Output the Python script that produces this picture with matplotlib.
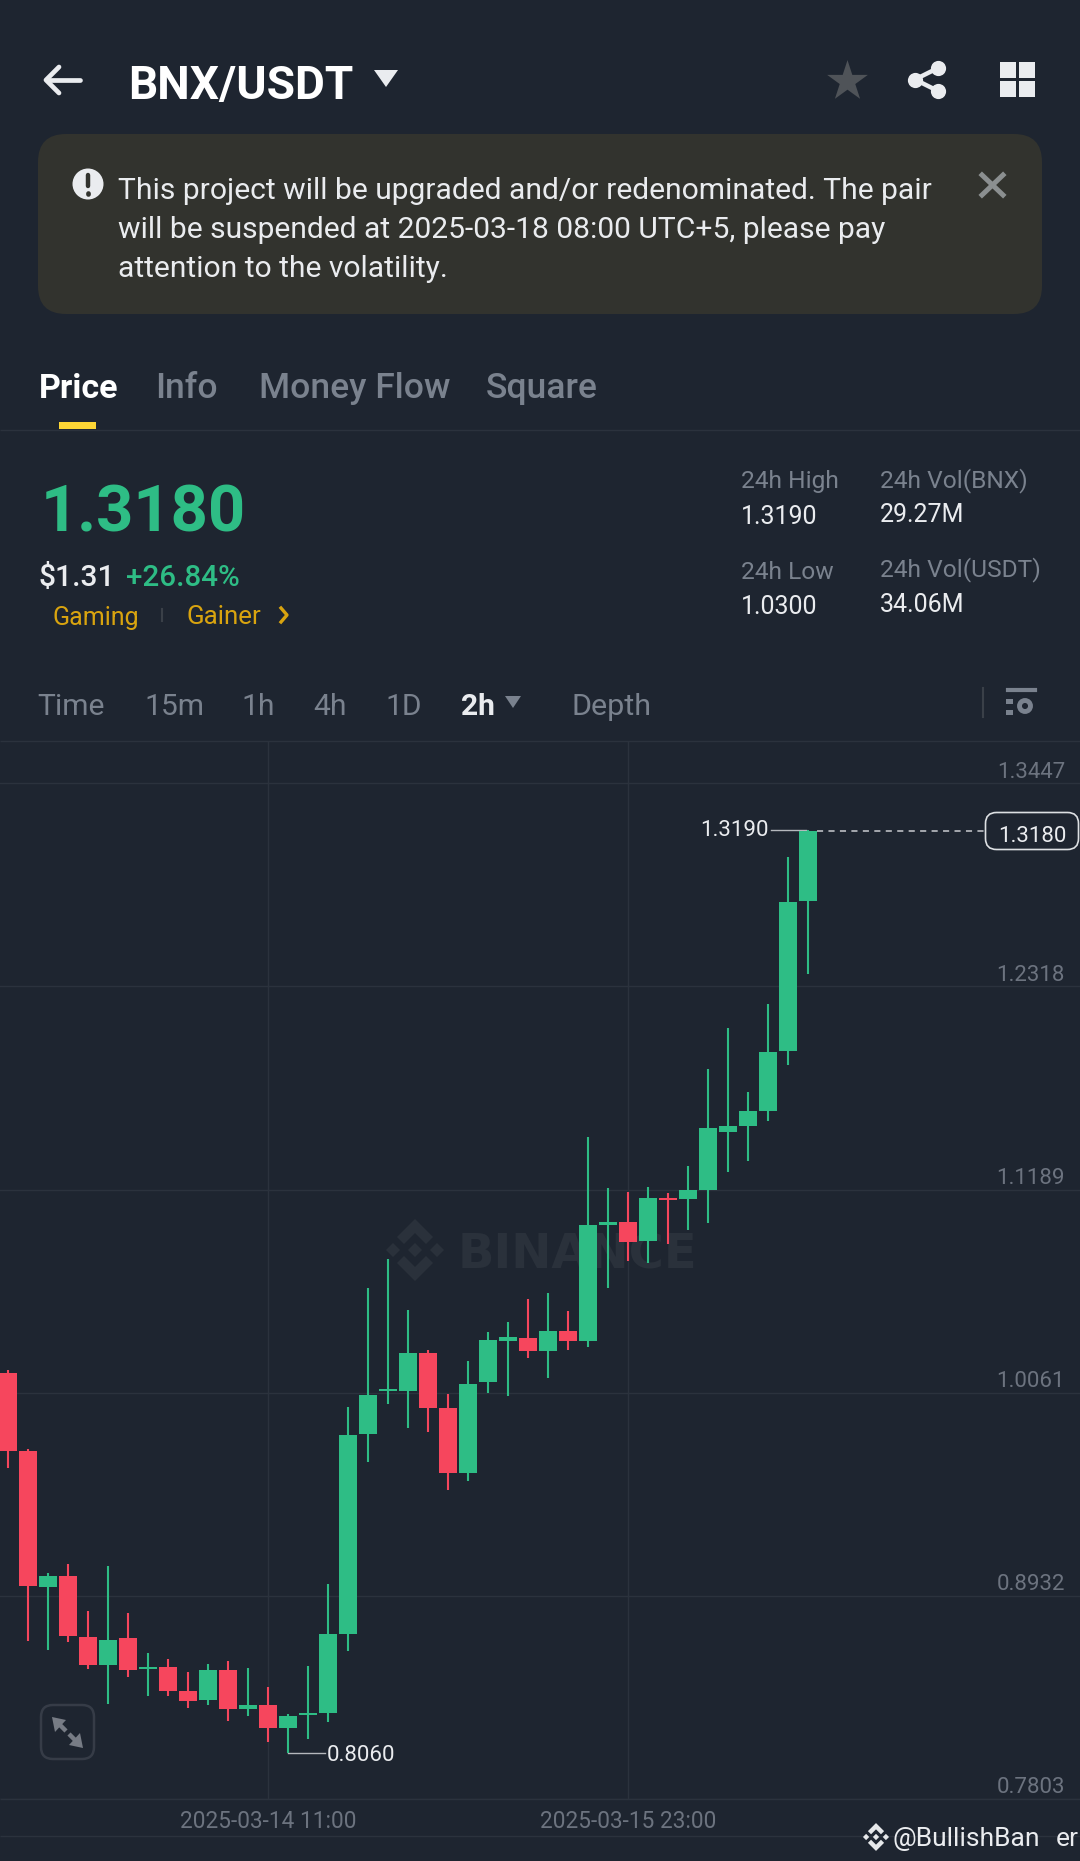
import matplotlib
matplotlib.use("Agg")
import matplotlib.pyplot as plt
from matplotlib.patches import FancyBboxPatch, Polygon, Circle, Rectangle

plt.rcParams['font.family'] = ['Roboto', 'DejaVu Sans']

# candles, left to right: high, top of body, bottom of body, low
highs = [1.0189, 0.9750, 0.9057, 0.9107, 0.8845, 0.9100, 0.8838, 0.8613, 0.8579, 0.8507,
         0.8553, 0.8570, 0.8531, 0.8427, 0.8273, 0.8542, 0.8999, 0.9984, 1.0644, 1.0806,
         1.0521, 1.0300, 1.0051, 1.0239, 1.0400, 1.0456, 1.0582, 1.0615, 1.0513, 1.1482,
         1.1200, 1.1174, 1.1202, 1.1169, 1.1319, 1.1858, 1.2087, 1.1734, 1.2221, 1.3036, 1.3190]
tops = [1.0168, 0.9735, 0.9044, 0.9044, 0.8704, 0.8689, 0.8695, 0.8535, 0.8535, 0.8403,
        0.8518, 0.8518, 0.8325, 0.8327, 0.8262, 0.8280, 0.8719, 0.9823, 1.0049, 1.0079,
        1.0280, 1.0280, 0.9977, 1.0111, 1.0352, 1.0369, 1.0367, 1.0406, 1.0406, 1.0991,
        1.1011, 1.1010, 1.1141, 1.1145, 1.1187, 1.1530, 1.1543, 1.1624, 1.1956, 1.2790, 1.3180]
bottoms = [0.9735, 0.8986, 0.8983, 0.8706, 0.8550, 0.8550, 0.8520, 0.8524, 0.8403, 0.8347,
           0.8353, 0.8301, 0.8304, 0.8198, 0.8198, 0.8269, 0.8280, 0.8719, 0.9830, 1.0068,
           1.0070, 0.9977, 0.9613, 0.9613, 1.0119, 1.0348, 1.0293, 1.0291, 1.0347, 1.0350,
           1.0991, 1.0899, 1.0902, 1.1130, 1.1136, 1.1189, 1.1508, 1.1545, 1.1626, 1.1962, 1.2792]
lows = [0.9642, 0.8680, 0.8631, 0.8676, 0.8527, 0.8332, 0.8481, 0.8373, 0.8373, 0.8306,
        0.8327, 0.8239, 0.8265, 0.8117, 0.8060, 0.8137, 0.8232, 0.8624, 0.9674, 0.9999,
        0.9862, 0.9841, 0.9518, 0.9572, 1.0061, 1.0043, 1.0252, 1.0141, 1.0297, 1.0313,
        1.0645, 1.0791, 1.0782, 1.0887, 1.0963, 1.1004, 1.1289, 1.1348, 1.1571, 1.1884, 1.2386]
is_up = [0, 0, 1, 0, 0, 1, 0, 1, 0, 0, 1, 0, 1, 0, 1, 1, 1, 1, 1, 1, 1,
         0, 0, 1, 1, 1, 0, 1, 0, 1, 1, 0, 1, 0, 1, 1, 1, 1, 1, 1, 1]

price_ticks = [1.3447, 1.2318, 1.1189, 1.0061, 0.8932, 0.7803]
price_labels = ['1.3447', '1.2318', '1.1189', '1.0061', '0.8932', '0.7803']
date_ticks = [13, 31]
date_labels = ['2025-03-14 11:00', '2025-03-15 23:00']
last_price = 1.3180
max_index, max_price = 40, 1.3190
min_index, min_price = 14, 0.8060

BG = '#1E2530'
GREEN = '#2EBD85'
RED = '#F6465D'
GRID = '#2B323D'
MUTED = '#7A828E'
AXIS_TXT = '#6C737F'
WHITE = '#EAECEF'
YELLOW = '#D9A40F'
BANNER = '#32332E'

W, H = 1080, 1861
fig = plt.figure(figsize=(W / 100, H / 100), dpi=100, facecolor=BG)

# whole page in pixel coordinates, for the app chrome
ov = fig.add_axes([0, 0, 1, 1], zorder=1)
ov.set_xlim(0, W)
ov.set_ylim(H, 0)
ov.axis('off')


def txt(x, y, s, px, color=WHITE, weight='normal', ha='left', **kw):
    return ov.text(x, y, s, fontsize=px * 0.72, color=color, fontweight=weight,
                   ha=ha, va='center_baseline', **kw)


def hline(y, x0=0, x1=W, color=GRID, lw=1.0):
    ov.plot([x0, x1], [y, y], color=color, lw=lw, solid_capstyle='butt')


def logo(where, cx, cy, k, color, zorder=2):
    # exchange mark: two chevrons and three small diamonds
    d = 7 * k
    for dx in (-22 * k, 0, 22 * k):
        where.add_patch(Polygon([(cx + dx - d, cy), (cx + dx, cy - d), (cx + dx + d, cy), (cx + dx, cy + d)],
                                fc=color, ec='none', zorder=zorder))
    for sgn in (-1, 1):
        chev = [(0, 31), (18, 13), (11, 6), (0, 17), (-11, 6), (-18, 13)]
        where.add_patch(Polygon([(cx + a * k, cy + sgn * b * k) for a, b in chev],
                                fc=color, ec='none', zorder=zorder))


# header
ov.plot([47, 80], [80, 80], color=WHITE, lw=3.4, solid_capstyle='round')
ov.plot([59, 46, 59], [67, 80, 93], color=WHITE, lw=3.4, solid_capstyle='round', solid_joinstyle='round')
txt(128, 81, 'BNX/USDT', 46, color='white', weight='bold')
ov.add_patch(Polygon([(374, 70), (398, 70), (386, 87)], closed=True, fc=WHITE, ec='none'))
ov.scatter([847], [81], marker='*', s=950, color='#4F5358', linewidths=0)
ov.plot([938, 915, 938], [68, 79.5, 91], color=WHITE, lw=3.2)
ov.scatter([938, 915, 938], [68, 79.5, 91], s=120, color=WHITE, linewidths=0)
for sq_x in (1000, 1019):
    for sq_y in (62, 81):
        ov.add_patch(Rectangle((sq_x, sq_y), 15.5, 15.5, fc=WHITE, ec='none'))

# notice banner
ov.add_patch(FancyBboxPatch((38, 134), 1004, 180, boxstyle='round,pad=0,rounding_size=28',
                            fc=BANNER, ec='none'))
ov.add_patch(Circle((88, 184), 15.5, fc=WHITE, ec='none'))
ov.plot([88, 88], [175, 186], color=BANNER, lw=3.2, solid_capstyle='round')
ov.plot([88, 88], [193, 193.5], color=BANNER, lw=3.4, solid_capstyle='round')
txt(118, 188, 'This project will be upgraded and/or redenominated. The pair', 30)
txt(118, 227, 'will be suspended at 2025-03-18 08:00 UTC+5, please pay', 30)
txt(118, 266, 'attention to the volatility.', 30)
ov.plot([982, 1003], [175, 195], color='#8B8F90', lw=3.6)
ov.plot([1003, 982], [175, 195], color='#8B8F90', lw=3.6)

# tabs
txt(39, 385, 'Price', 34, color='white', weight='bold')
txt(155, 385, 'Info', 35.5, color=MUTED, weight='medium')
txt(259, 385, 'Money Flow', 35.5, color=MUTED, weight='medium')
txt(486, 385, 'Square', 35.5, color=MUTED, weight='medium')
hline(430)
ov.add_patch(Rectangle((59, 422), 37, 7, fc='#FCD535', ec='none'))

# price block
txt(41, 507, '1.3180', 65, color=GREEN, weight='bold')
txt(39, 575, '$1.31', 30, color=WHITE, weight='medium')
txt(126, 575, '+26.84%', 29.5, color=GREEN, weight='medium')
txt(53, 615, 'Gaming', 25, color=YELLOW)
ov.plot([162, 162], [609, 621], color='#3A4048', lw=1.5)
txt(187, 615, 'Gainer', 26, color=YELLOW)
ov.plot([281, 287, 281], [608, 615, 622], color=YELLOW, lw=2.4)

txt(741, 479, '24h High', 24.5, color=MUTED)
txt(741, 514, '1.3190', 25)
txt(741, 570, '24h Low', 24.5, color=MUTED)
txt(741, 604, '1.0300', 25)
txt(880, 478, '24h Vol(BNX)', 24.5, color=MUTED)
txt(880, 512, '29.27M', 25)
txt(880, 567, '24h Vol(USDT)', 24.5, color=MUTED)
txt(880, 603, '34.06M', 25)

# interval row
txt(37, 704, 'Time', 30, color=MUTED)
txt(144, 704, '15m', 30, color=MUTED)
txt(241, 704, '1h', 30, color=MUTED)
txt(313, 704, '4h', 30, color=MUTED)
txt(385, 704, '1D', 30, color=MUTED)
txt(461, 704, '2h', 30, color=WHITE, weight='bold')
ov.add_patch(Polygon([(505, 696), (521, 696), (513, 708)], closed=True, fc=MUTED, ec='none'))
txt(572, 704, 'Depth', 30.5, color=MUTED)
ov.plot([983, 983], [688, 717], color='#3A4048', lw=1.5)
ov.plot([1008, 1035], [690, 690], color=MUTED, lw=3)
ov.add_patch(Rectangle((1006, 699), 7, 5, fc=MUTED, ec='none'))
ov.add_patch(Rectangle((1006, 710), 7, 5, fc=MUTED, ec='none'))
ov.add_patch(Circle((1025, 706), 5.5, fc='none', ec=MUTED, lw=3.5))

# watermark behind the candles
wm = '#2A313B'
logo(ov, 415, 1250, 1.0, wm)
ov.text(458, 1250, 'BINANCE', fontsize=48 * 0.72, color=wm, fontweight='bold',
        family='DejaVu Sans', ha='left', va='center_baseline')

# chart frame lines
hline(741)
hline(1799)
hline(1836)

# candles, drawn on a real price axis
ax = fig.add_axes([0, 1 - 1799 / H, 1, (1799 - 741) / H], zorder=2)
ax.patch.set_alpha(0)
ax.set_xlim(-0.4, 53.6)
ax.set_ylim(0.7803, 1.3682)
for side in ax.spines.values():
    side.set_visible(False)
ax.tick_params(left=False, bottom=False, labelleft=False, labelbottom=False)
ax.set_yticks(price_ticks)
ax.set_xticks(date_ticks)
ax.grid(True, color=GRID, lw=1.0)
ax.set_axisbelow(True)

for i in range(len(highs)):
    c = GREEN if is_up[i] else RED
    ax.vlines(i, lows[i], highs[i], color=c, lw=1.5, zorder=3)
    ax.bar(i, tops[i] - bottoms[i], bottom=bottoms[i], width=0.86, color=c, linewidth=0, zorder=4)

for val, lab in zip(price_ticks, price_labels):
    ax.annotate(lab, (1065, val), xycoords=('figure pixels', 'data'), xytext=(0, 8), textcoords='offset points',
                ha='right', va='center', color=AXIS_TXT, fontsize=16)
for idx, lab in zip(date_ticks, date_labels):
    ax.annotate(lab, (idx, 0.7803), xycoords='data', xytext=(0, -16), textcoords='offset points',
                ha='center', va='center', color=AXIS_TXT, fontsize=16.3, annotation_clip=False)

# last price marker
ax.plot([40.45, 48.8], [last_price, last_price], color='#C9CCD0', lw=1.1, dashes=(4, 3.5))
ov2 = fig.add_axes([0, 0, 1, 1], zorder=3)
ov2.set_xlim(0, W)
ov2.set_ylim(H, 0)
ov2.axis('off')
ov2.add_patch(FancyBboxPatch((985.5, 812.5), 93, 37, boxstyle='round,pad=0,rounding_size=11',
                             fc=BG, ec='#DDE0E3', lw=1.2))
ov2.text(1032, 836, f'{last_price:.4f}', fontsize=16, color=WHITE, ha='center', va='center')

# max and min annotations
ax.plot([max_index - 0.1, 38.15], [max_price, max_price], color='#B5B8BD', lw=1.0)
ax.annotate(f'{max_price:.4f}', (38.05, max_price), xytext=(0, -1), textcoords='offset points',
            ha='right', va='center', color=WHITE, fontsize=16)
ax.plot([min_index, 15.85], [min_price, min_price], color='#B5B8BD', lw=1.0)
ax.annotate(f'{min_price:.4f}', (15.95, min_price), xytext=(0, -2), textcoords='offset points',
            ha='left', va='center', color=WHITE, fontsize=16)

# expand button
ov2.add_patch(FancyBboxPatch((41, 1705), 53, 54, boxstyle='round,pad=0,rounding_size=12',
                             fc='none', ec='#363C47', lw=1.8))
for head, shaft in (([(52, 1717), (66, 1720), (55, 1732)], ([59, 66], [1724, 1731])),
                    ([(83, 1748), (69, 1745), (80, 1733)], ([76, 69], [1741, 1734]))):
    ov2.add_patch(Polygon(head, closed=True, fc='#777C85', ec='none'))
    ov2.plot(shaft[0], shaft[1], color='#777C85', lw=3.2, solid_capstyle='butt')

# source tag
logo(ov2, 876, 1837, 0.45, '#E6E8EA')
ov2.text(893, 1839, '@BullishBan', fontsize=19, color=WHITE, ha='left', va='center')
ov2.text(1056, 1839, 'er', fontsize=19, color=WHITE, ha='left', va='center')

fig.savefig('out.png', dpi=100, facecolor=BG)
